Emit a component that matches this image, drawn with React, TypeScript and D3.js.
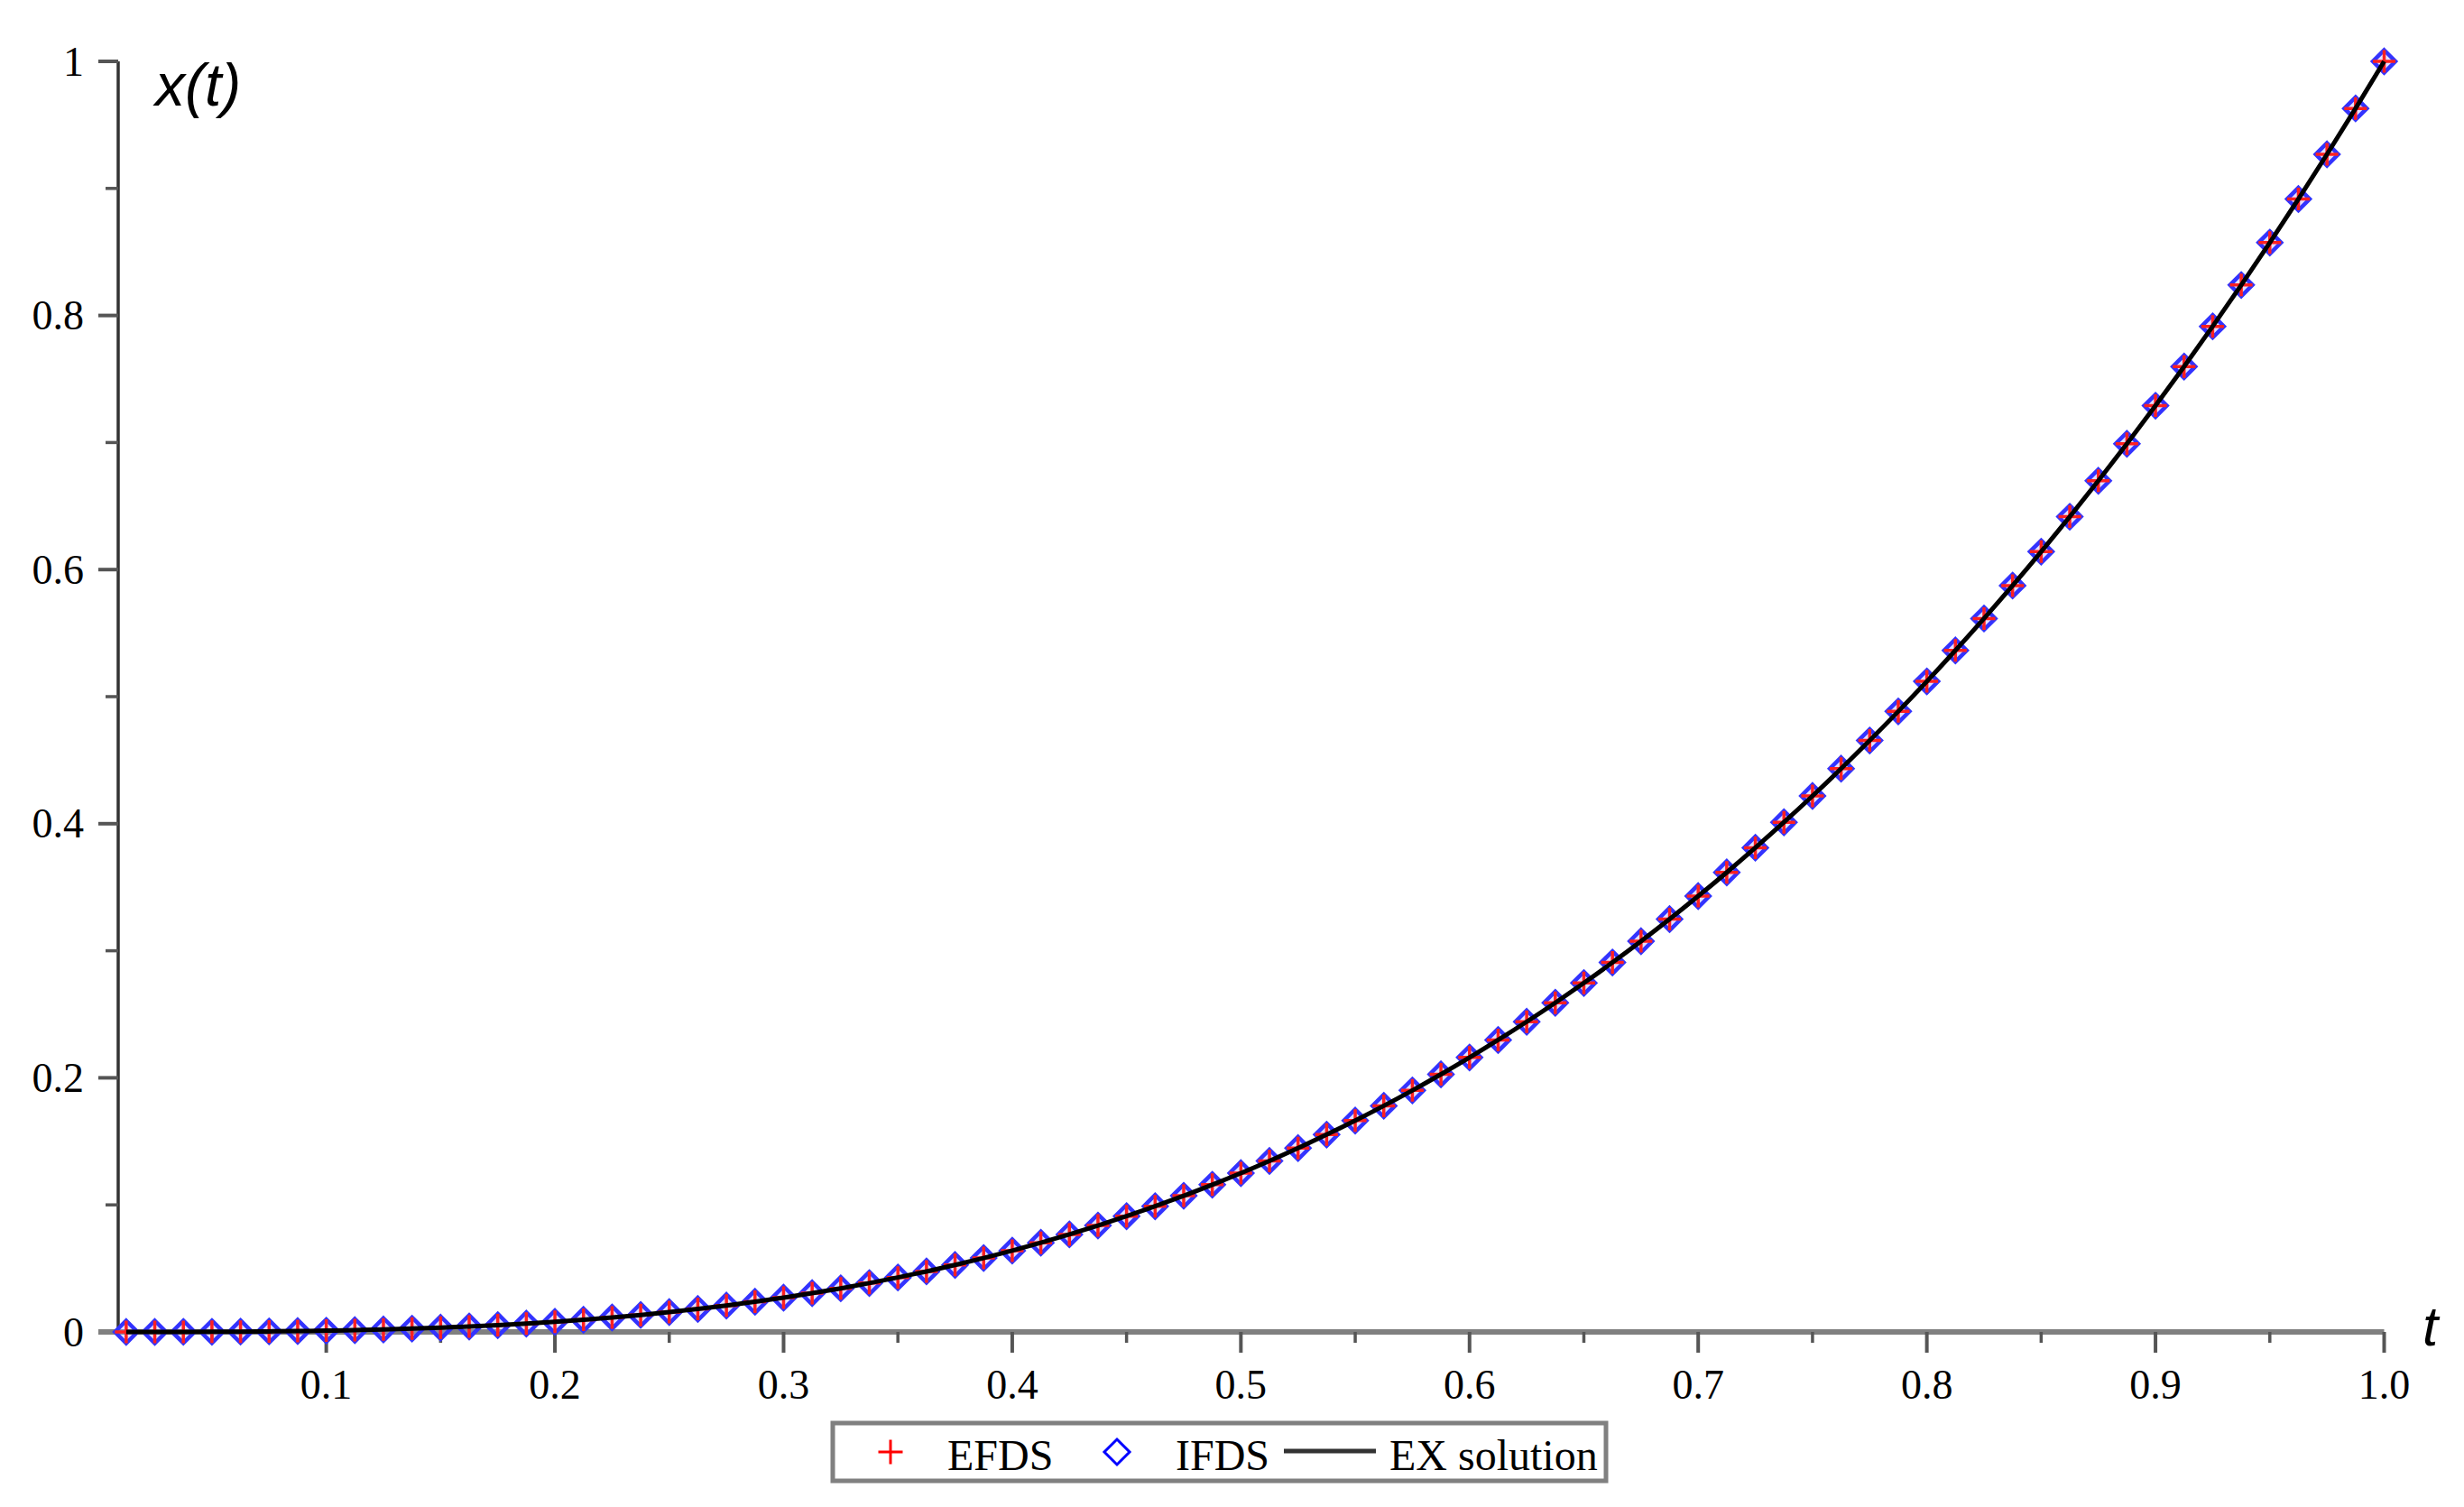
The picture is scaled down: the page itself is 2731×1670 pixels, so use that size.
import * as d3 from 'd3'

// t grid (step 0.0125)
const tValues = [
  0.0125, 0.025, 0.0375, 0.05, 0.0625, 0.075, 0.0875, 0.1, 0.1125, 0.125,
  0.1375, 0.15, 0.1625, 0.175, 0.1875, 0.2, 0.2125, 0.225, 0.2375, 0.25,
  0.2625, 0.275, 0.2875, 0.3, 0.3125, 0.325, 0.3375, 0.35, 0.3625, 0.375,
  0.3875, 0.4, 0.4125, 0.425, 0.4375, 0.45, 0.4625, 0.475, 0.4875, 0.5,
  0.5125, 0.525, 0.5375, 0.55, 0.5625, 0.575, 0.5875, 0.6, 0.6125, 0.625,
  0.6375, 0.65, 0.6625, 0.675, 0.6875, 0.7, 0.7125, 0.725, 0.7375, 0.75,
  0.7625, 0.775, 0.7875, 0.8, 0.8125, 0.825, 0.8375, 0.85, 0.8625, 0.875,
  0.8875, 0.9, 0.9125, 0.925, 0.9375, 0.95, 0.9625, 0.975, 0.9875, 1.0
]

// x(t) values — EFDS, IFDS and the exact solution coincide in the picture
const xValues = [
  0.000002, 0.000016, 0.000053, 0.000125, 0.000244, 0.000422, 0.00067, 0.001, 0.001424, 0.001953,
  0.0026, 0.003375, 0.004291, 0.005359, 0.006592, 0.008, 0.009596, 0.011391, 0.013396, 0.015625,
  0.018088, 0.020797, 0.023764, 0.027, 0.030518, 0.034328, 0.038443, 0.042875, 0.047635, 0.052734,
  0.058186, 0.064, 0.070189, 0.076766, 0.08374, 0.091125, 0.098932, 0.107172, 0.115857, 0.125,
  0.134611, 0.144703, 0.155287, 0.166375, 0.177979, 0.190109, 0.202779, 0.216, 0.229783, 0.244141,
  0.259084, 0.274625, 0.290775, 0.307547, 0.324951, 0.343, 0.361705, 0.381078, 0.401131, 0.421875,
  0.443322, 0.465484, 0.488373, 0.512, 0.536377, 0.561516, 0.587428, 0.614125, 0.641619, 0.669922,
  0.699045, 0.729, 0.759799, 0.791453, 0.823975, 0.857375, 0.891666, 0.926859, 0.962967, 1.0
]

const efdsValues = xValues
const ifdsValues = xValues
const exValues = xValues

const xMajorTicks = [0.1, 0.2, 0.3, 0.4, 0.5, 0.6, 0.7, 0.8, 0.9, 1.0]
const xMajorLabels = ['0.1', '0.2', '0.3', '0.4', '0.5', '0.6', '0.7', '0.8', '0.9', '1.0']
const xMinorTicks = [0.05, 0.15, 0.25, 0.35, 0.45, 0.55, 0.65, 0.75, 0.85, 0.95]
const yMajorTicks = [0, 0.2, 0.4, 0.6, 0.8, 1]
const yMajorLabels = ['0', '0.2', '0.4', '0.6', '0.8', '1']
const yMinorTicks = [0.1, 0.3, 0.5, 0.7, 0.9]

const legendItems = ['EFDS', 'IFDS', 'EX solution']

const W = 2731
const H = 1670
const serif = '"Liberation Serif", "Times New Roman", serif'
const sans = '"Liberation Sans", Arial, sans-serif'

export default function App() {
  const x = d3.scaleLinear().domain([0.009, 1.0]).range([131, 2642.5])
  const y = d3.scaleLinear().domain([0, 1]).range([1476, 68])

  const line = d3.line<number>()
    .x((_, i) => x(tValues[i]))
    .y((d) => y(d))
    .curve(d3.curveMonotoneX)

  const mk = 12.5
  const x0 = x.range()[0]
  const y0 = y(0)

  return (
    <svg width={W} height={H} style={{ position: 'absolute', left: 0, top: 0, background: '#fff' }}>
      {/* y axis */}
      <line x1={x0} x2={x0} y1={y(1)} y2={y0} stroke="#333" strokeWidth={3.5} />
      {yMajorTicks.map((v, i) => (
        <g key={'ym' + i}>
          <line x1={x0 - 22} x2={x0} y1={y(v)} y2={y(v)} stroke={v === 0 ? '#808080' : '#555'} strokeWidth={v === 0 ? 6 : 4} />
          <text x={93} y={y(v)} dy="0.34em" textAnchor="end" fontFamily={serif} fontSize={46} fill="#000">
            {yMajorLabels[i]}
          </text>
        </g>
      ))}
      {yMinorTicks.map((v, i) => (
        <line key={'yn' + i} x1={x0 - 14} x2={x0} y1={y(v)} y2={y(v)} stroke="#555" strokeWidth={3.5} />
      ))}

      {/* x axis */}
      <line x1={x0} x2={x(1)} y1={y0} y2={y0} stroke="#808080" strokeWidth={6} />
      {xMajorTicks.map((v, i) => (
        <g key={'xm' + i}>
          <line x1={x(v)} x2={x(v)} y1={y0} y2={y0 + 23} stroke="#555" strokeWidth={4} />
          <text x={x(v)} y={1550} textAnchor="middle" fontFamily={serif} fontSize={46} fill="#000">
            {xMajorLabels[i]}
          </text>
        </g>
      ))}
      {xMinorTicks.map((v, i) => (
        <line key={'xn' + i} x1={x(v)} x2={x(v)} y1={y0} y2={y0 + 12} stroke="#555" strokeWidth={3.5} />
      ))}

      <text x={172} y={117} fontFamily={sans} fontStyle="italic" fontSize={66} fill="#000">x(t)</text>
      <text x={2685} y={1491} fontFamily={sans} fontStyle="italic" fontSize={62} fill="#000">t</text>

      {/* IFDS diamonds */}
      {ifdsValues.map((v, i) => {
        const cx = x(tValues[i])
        const cy = y(v)
        return (
          <path key={'d' + i}
            d={`M${cx},${cy - mk}L${cx + mk},${cy}L${cx},${cy + mk}L${cx - mk},${cy}Z`}
            fill="rgba(170,150,255,0.3)" stroke="#3333ff" strokeWidth={4.5} />
        )
      })}
      {/* EFDS crosses */}
      {efdsValues.map((v, i) => {
        const cx = x(tValues[i])
        const cy = y(v)
        return (
          <path key={'p' + i}
            d={`M${cx - mk},${cy}L${cx + mk},${cy}M${cx},${cy - mk}L${cx},${cy + mk}`}
            stroke="#ff2020" strokeWidth={3.5} />
        )
      })}
      {/* exact solution */}
      <path d={line(exValues) ?? ''} fill="none" stroke="#000" strokeWidth={5} />

      {/* legend */}
      <rect x={923} y={1577} width={857} height={64} fill="#fff" stroke="#808080" strokeWidth={5} />
      <path d="M973.5,1609L1000.5,1609M987,1595.5L987,1622.5" stroke="#ff0000" strokeWidth={3} />
      <text x={1050} y={1629} fontFamily={serif} fontSize={48} fill="#000">{legendItems[0]}</text>
      <path d="M1238,1595L1252,1609L1238,1623L1224,1609Z" fill="none" stroke="#0000ff" strokeWidth={3} />
      <text x={1303} y={1629} fontFamily={serif} fontSize={48} fill="#000">{legendItems[1]}</text>
      <line x1={1423} x2={1525} y1={1608} y2={1608} stroke="#333" strokeWidth={5} />
      <text x={1540} y={1629} fontFamily={serif} fontSize={48} fill="#000">{legendItems[2]}</text>
    </svg>
  )
}
